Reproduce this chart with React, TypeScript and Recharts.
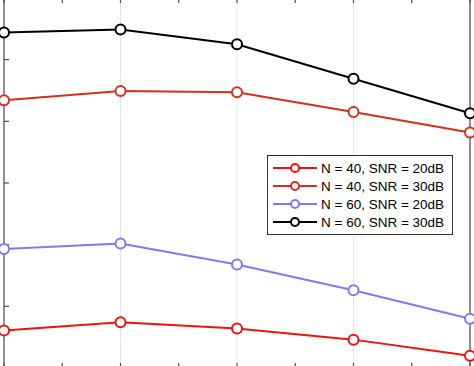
import React from "react";
import {
  LineChart,
  Line,
  XAxis,
  YAxis,
  CartesianGrid,
} from "recharts";

const xValues = [10, 20, 30, 40, 50];
const xTicks = [10, 15, 20, 25, 30, 35, 40, 45, 50];
const yTicks = [0, 1, 2, 3, 4, 5, 6];

const n40snr20 = [0.61, 0.74, 0.64, 0.46, 0.2];
const n40snr30 = [4.34, 4.49, 4.47, 4.15, 3.82];
const n60snr20 = [1.93, 2.02, 1.68, 1.26, 0.8];
const n60snr30 = [5.44, 5.49, 5.25, 4.69, 4.13];

const series = [
  { key: "a", label: "N = 40, SNR = 20dB", color: "#ee1212", values: n40snr20 },
  { key: "b", label: "N = 40, SNR = 30dB", color: "#d5301f", values: n40snr30 },
  { key: "c", label: "N = 60, SNR = 20dB", color: "#7b7bf2", values: n60snr20 },
  { key: "d", label: "N = 60, SNR = 30dB", color: "#000000", values: n60snr30 },
];

const data = xValues.map((x, i) => {
  const row: Record<string, number> = { x };
  series.forEach((s) => {
    row[s.key] = s.values[i];
  });
  return row;
});

const axisColor = "#4d4d4d";
const font = "'Liberation Sans', Arial, Helvetica, sans-serif";

function LegendBox() {
  return (
    <div
      style={{
        position: "absolute",
        left: 267,
        top: 155,
        border: "1px solid #333",
        background: "#fff",
        padding: "3px 8px 3px 5px",
        fontFamily: font,
        fontSize: 13.5,
        color: "#000",
        whiteSpace: "nowrap",
      }}
    >
      {series.map((s) => (
        <div
          key={s.key}
          style={{ display: "flex", alignItems: "center", height: 18 }}
        >
          <svg width={46} height={12} style={{ marginRight: 2 }}>
            <line x1={0} y1={6} x2={44} y2={6} stroke={s.color} strokeWidth={2} />
            <circle cx={22} cy={6} r={4} fill="#fff" stroke={s.color} strokeWidth={2} />
          </svg>
          <span>{s.label}</span>
        </div>
      ))}
    </div>
  );
}

export default function App() {
  return (
    <div style={{ position: "absolute", left: 0, top: 0, width: 474, height: 366, overflow: "hidden" }}>
      <div style={{ position: "absolute", left: 0, top: -2 }}>
        <LineChart
          width={474}
          height={370}
          data={data}
          margin={{ top: 0, right: 4, bottom: 0, left: 4 }}
        >
          <CartesianGrid stroke="#e6e6e6" strokeWidth={1} />
          <XAxis
            xAxisId="bottom"
            dataKey="x"
            type="number"
            domain={[10, 50]}
            ticks={xTicks}
            height={1}
            mirror
            tickSize={5}
            tickFormatter={() => ""}
            stroke={axisColor}
            strokeWidth={1.2}
          />
          <XAxis
            xAxisId="top"
            dataKey="x"
            type="number"
            orientation="top"
            domain={[10, 50]}
            ticks={xTicks}
            height={1}
            mirror
            tickSize={5}
            tickFormatter={() => ""}
            stroke={axisColor}
            strokeWidth={1.2}
          />
          <YAxis
            yAxisId="left"
            type="number"
            domain={[0, 6]}
            ticks={yTicks}
            width={1}
            mirror
            tickSize={5}
            tickFormatter={() => ""}
            stroke={axisColor}
            strokeWidth={1.2}
          />
          <YAxis
            yAxisId="right"
            orientation="right"
            type="number"
            domain={[0, 6]}
            ticks={yTicks}
            width={1}
            mirror
            tickSize={5}
            tickFormatter={() => ""}
            stroke={axisColor}
            strokeWidth={1.2}
          />
          {series.map((s) => (
            <Line
              key={s.key}
              xAxisId="bottom"
              yAxisId="left"
              type="linear"
              dataKey={s.key}
              name={s.label}
              stroke={s.color}
              strokeWidth={2}
              dot={{ r: 5, fill: "#fff", stroke: s.color, strokeWidth: 2 }}
              isAnimationActive={false}
            />
          ))}
        </LineChart>
      </div>
      <LegendBox />
    </div>
  );
}
